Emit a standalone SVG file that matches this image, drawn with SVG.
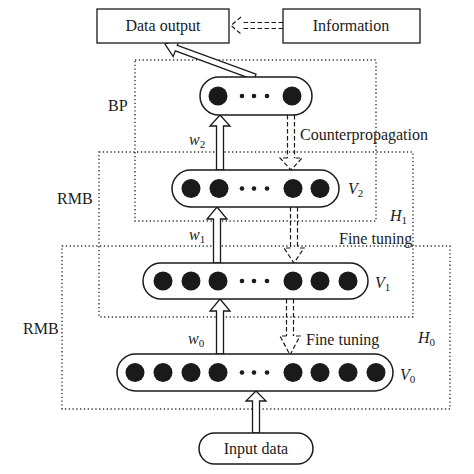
<svg xmlns="http://www.w3.org/2000/svg" width="474" height="474" viewBox="0 0 474 474">
<style>
text{font-family:"Liberation Serif","Times New Roman",serif;font-size:16px;fill:#1a1a1a}
.it{font-style:italic}
.sub{font-size:11px;font-style:normal}
.box{fill:#fff;stroke:#1a1a1a;stroke-width:1.3}
.pill{fill:#fff;stroke:#1a1a1a;stroke-width:1.5}
.dot{fill:none;stroke:#333;stroke-width:1.4;stroke-dasharray:1.3 2.5}
.n{fill:#1a1a1a}
.ha{fill:#fff;stroke:#1a1a1a;stroke-width:1.3;stroke-linejoin:miter}
.da{fill:none;stroke:#1a1a1a;stroke-width:1.2;stroke-dasharray:4.5 2.5}
</style>
<rect width="474" height="474" fill="#fff"/>
<g id="groups">
<rect class="dot" x="135" y="60" width="241" height="161"/>
<rect class="dot" x="99" y="152" width="314" height="165"/>
<rect class="dot" x="62" y="246" width="388" height="163"/>
<text x="108" y="111">BP</text>
<text x="57" y="204">RMB</text>
<text x="23" y="334">RMB</text>
<text class="it" x="390" y="221">H<tspan class="sub" dy="3">1</tspan></text>
<text class="it" x="418" y="343">H<tspan class="sub" dy="3">0</tspan></text>
</g>
<g id="connectors">
<path class="ha" d="M165,44 L179.4,39.7 L177.3,45.3 L256,74.2 L254,79.8 L175.3,50.9 L173.2,56.6 Z"/>
<g id="info-arrow">
<path class="da" d="M283,22.5 H241 M283,28.5 H241 M241,17 L231,25.5 L241,34"/>
</g>
<path class="ha" d="M220,115 L230,126 L223.5,126 L223.5,170 L216.5,170 L216.5,126 L210,126 Z"/>
<path class="ha" d="M217,207 L227,219 L220.5,219 L220.5,263 L213.5,263 L213.5,219 L207,219 Z"/>
<path class="ha" d="M220,299 L230,311 L223.5,311 L223.5,354 L216.5,354 L216.5,311 L210,311 Z"/>
<path class="ha" d="M256,391 L266,401 L259.5,401 L259.5,433 L252.5,433 L252.5,401 L246,401 Z"/>
<path class="da" d="M287.5,115 V158 M294.5,115 V158 M287.5,158 H280 L291,170 L302,158 H294.5"/>
<path class="da" d="M290.5,207 V248 M297.5,207 V248 M290.5,248 H284 L294,263 L304,248 H297.5"/>
<path class="da" d="M286.5,299 V336 M293.5,299 V336 M286.5,336 H280 L290,355 L300,336 H293.5"/>
<text class="it" x="189" y="145">w<tspan class="sub" dy="3">2</tspan></text>
<text class="it" x="189" y="240">w<tspan class="sub" dy="3">1</tspan></text>
<text class="it" x="188" y="344">w<tspan class="sub" dy="3">0</tspan></text>
<text x="300" y="140">Counterpropagation</text>
<text x="339" y="244">Fine tuning</text>
<text x="306" y="345">Fine tuning</text>
</g>
<g id="data-output">
<rect class="box" x="97" y="9" width="132" height="34"/>
<text x="163" y="31" text-anchor="middle">Data output</text>
</g>
<g id="information">
<rect class="box" x="283" y="9" width="137" height="34"/>
<text x="351" y="31" text-anchor="middle">Information</text>
</g>
<g id="layer-top">
<rect class="pill" x="200" y="77" width="112" height="38" rx="19"/>
<circle class="n" cx="218" cy="96" r="9.5"/>
<circle class="n" cx="242" cy="96" r="2.3"/><circle class="n" cx="254" cy="96" r="2.3"/><circle class="n" cx="267" cy="96" r="2.3"/>
<circle class="n" cx="292" cy="96" r="9.5"/>
</g>
<g id="layer-v2">
<rect class="pill" x="172" y="170" width="167" height="37" rx="18.5"/>
<circle class="n" cx="191" cy="188.5" r="9.5"/><circle class="n" cx="219" cy="188.5" r="9.5"/>
<circle class="n" cx="242" cy="188.5" r="2.3"/><circle class="n" cx="254" cy="188.5" r="2.3"/><circle class="n" cx="267" cy="188.5" r="2.3"/>
<circle class="n" cx="293" cy="188.5" r="9.5"/><circle class="n" cx="320" cy="188.5" r="9.5"/>
<text class="it" x="348" y="194">V<tspan class="sub" dy="3">2</tspan></text>
</g>
<g id="layer-v1">
<rect class="pill" x="143" y="263" width="225" height="36" rx="18"/>
<circle class="n" cx="163" cy="281" r="9.5"/><circle class="n" cx="191" cy="281" r="9.5"/><circle class="n" cx="218" cy="281" r="9.5"/>
<circle class="n" cx="242" cy="281" r="2.3"/><circle class="n" cx="254" cy="281" r="2.3"/><circle class="n" cx="267" cy="281" r="2.3"/>
<circle class="n" cx="293" cy="281" r="9.5"/><circle class="n" cx="320" cy="281" r="9.5"/><circle class="n" cx="348" cy="281" r="9.5"/>
<text class="it" x="375" y="288">V<tspan class="sub" dy="3">1</tspan></text>
</g>
<g id="layer-v0">
<rect class="pill" x="117" y="354" width="276" height="37" rx="18.5"/>
<circle class="n" cx="135" cy="372.5" r="9.5"/><circle class="n" cx="163" cy="372.5" r="9.5"/><circle class="n" cx="191" cy="372.5" r="9.5"/><circle class="n" cx="218" cy="372.5" r="9.5"/>
<circle class="n" cx="242" cy="372.5" r="2.3"/><circle class="n" cx="254" cy="372.5" r="2.3"/><circle class="n" cx="267" cy="372.5" r="2.3"/>
<circle class="n" cx="293" cy="372.5" r="9.5"/><circle class="n" cx="320" cy="372.5" r="9.5"/><circle class="n" cx="348" cy="372.5" r="9.5"/><circle class="n" cx="376" cy="372.5" r="9.5"/>
<text class="it" x="400" y="380">V<tspan class="sub" dy="3">0</tspan></text>
</g>
<g id="input-data">
<rect class="pill" x="199" y="433" width="114" height="31" rx="15.5"/>
<text x="256" y="454" text-anchor="middle">Input data</text>
</g>
</svg>
